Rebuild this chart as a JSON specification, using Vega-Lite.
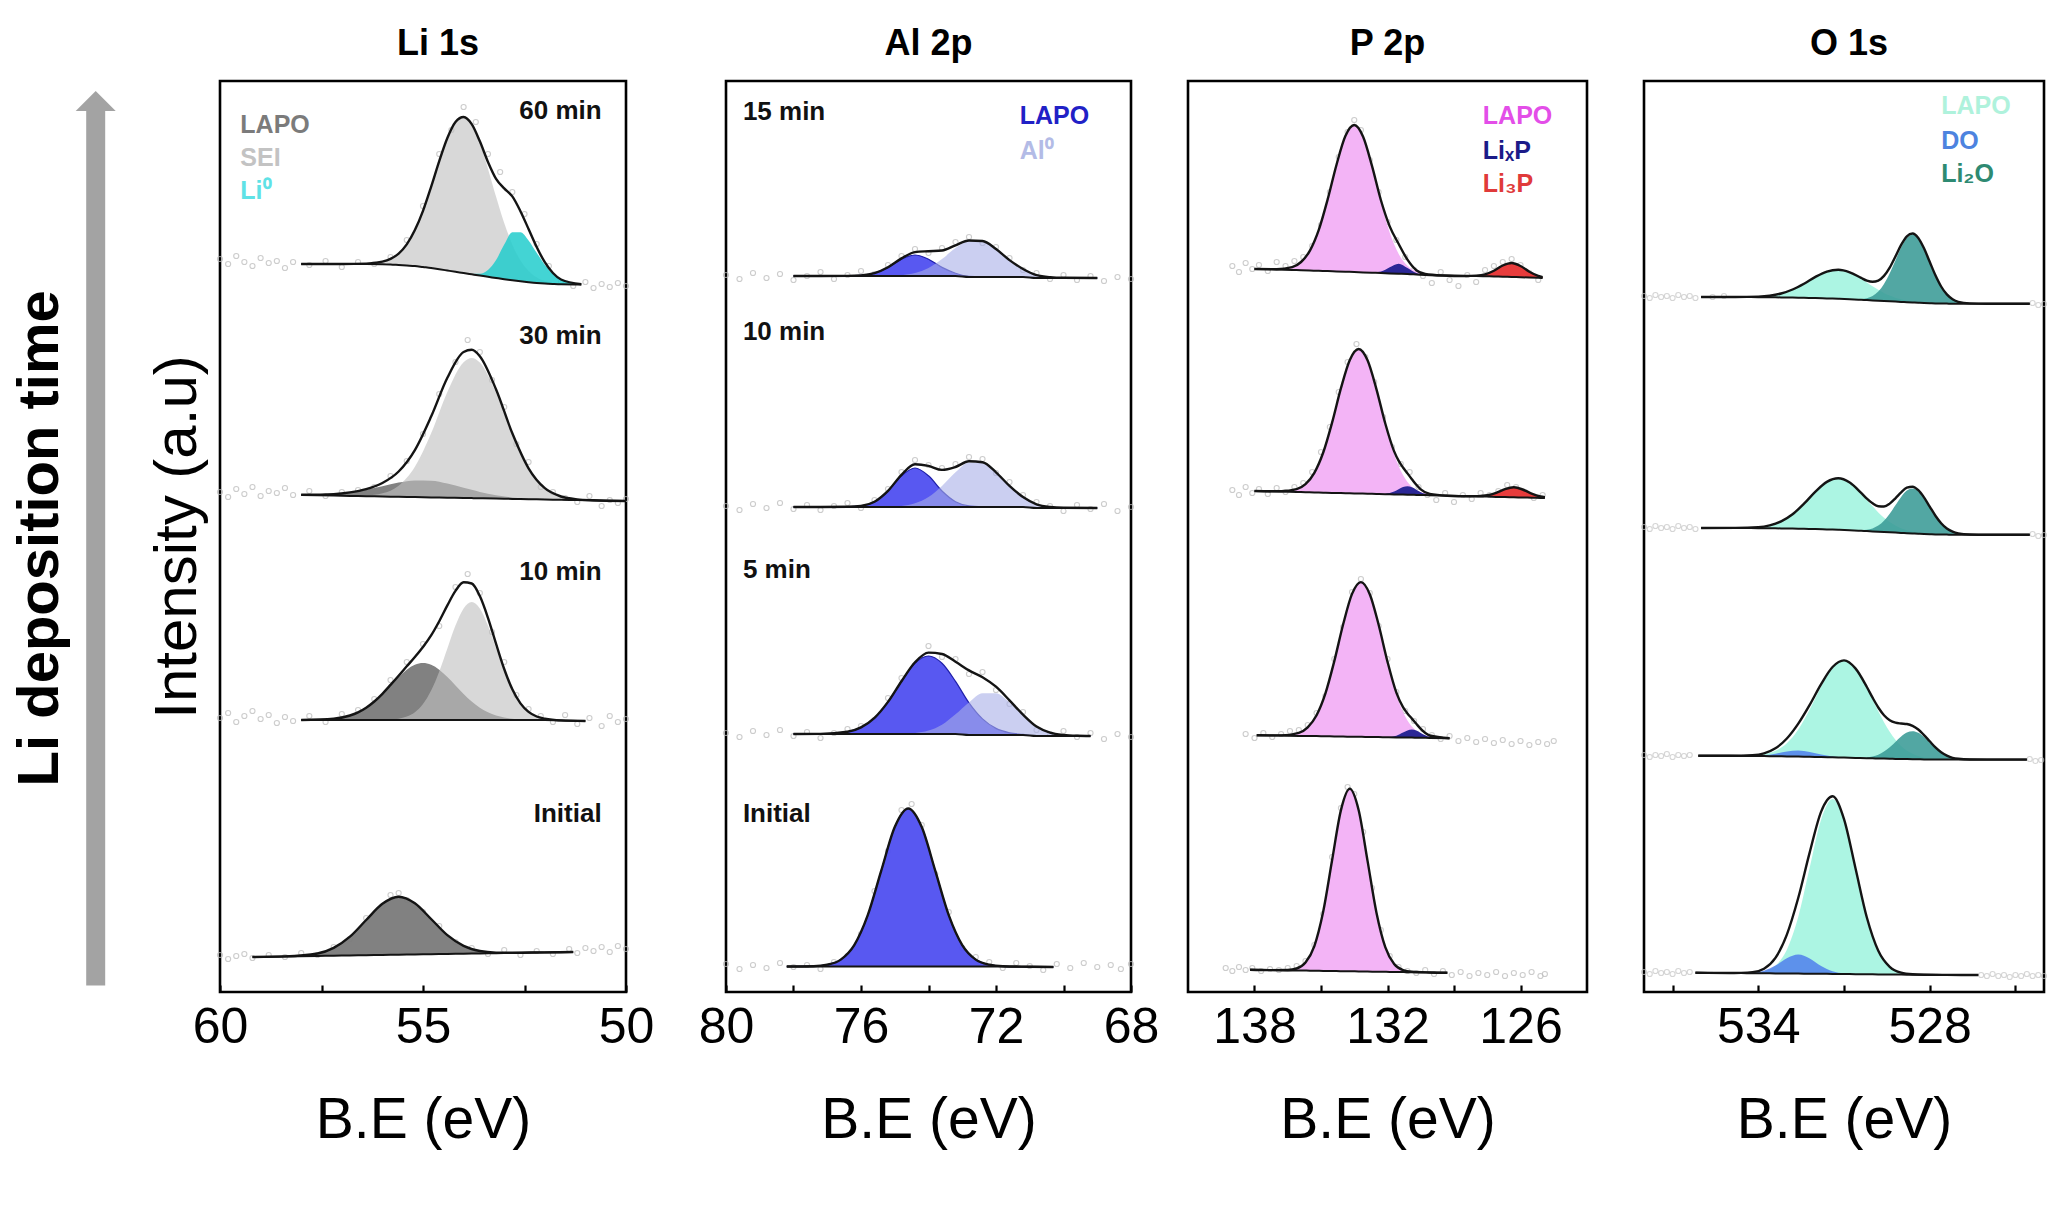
{
"$schema": "https://vega.github.io/schema/vega-lite/v6.json",
"background": "white",
"padding": {"left": 0, "top": 24, "right": 5, "bottom": 5},
"config": {
  "font": "Liberation Sans",
  "view": {"stroke": "#000", "strokeWidth": 2.6},
  "axis": {"grid": false, "domain": false, "labelColor": "#000", "titleColor": "#000", "tickColor": "#000"},
  "axisX": {"tickSize": -7, "tickWidth": 2.2, "labelFontSize": 50, "labelPadding": 17, "labelFlush": false, "labelOverlap": false, "labelBound": false, "titleFontSize": 57, "titleFontWeight": "normal", "titlePadding": 40, "format": "d"},
  "text": {"font": "Liberation Sans"}
},
"datasets": {
"Li1s": [
{"t":1,"x":59.2,"bg":35,"LAPO":35,"fit":35},
{"t":1,"x":58.4,"bg":35.5,"LAPO":35.6,"fit":35.6},
{"t":1,"x":57.6,"bg":36,"LAPO":38.5,"fit":38.5},
{"t":1,"x":57.2,"bg":36.3,"LAPO":44.1,"fit":44.1},
{"t":1,"x":56.8,"bg":36.5,"LAPO":55.3,"fit":55.3},
{"t":1,"x":56.4,"bg":36.8,"LAPO":72,"fit":72},
{"t":1,"x":56,"bg":37,"LAPO":88.2,"fit":88.2},
{"t":1,"x":55.6,"bg":37.3,"LAPO":95.3,"fit":95.3},
{"t":1,"x":55.2,"bg":37.5,"LAPO":88.7,"fit":88.7},
{"t":1,"x":54.8,"bg":37.8,"LAPO":73,"fit":73},
{"t":1,"x":54.4,"bg":38,"LAPO":56.8,"fit":56.8},
{"t":1,"x":54,"bg":38.3,"LAPO":46.1,"fit":46.1},
{"t":1,"x":53.6,"bg":38.5,"LAPO":41,"fit":41},
{"t":1,"x":53.2,"bg":38.8,"LAPO":39.4,"fit":39.4},
{"t":1,"x":52.8,"bg":39.1,"LAPO":39.2,"fit":39.2},
{"t":1,"x":52,"bg":39.6,"LAPO":39.6,"fit":39.6},
{"t":1,"x":51.3,"bg":40,"LAPO":40,"fit":40},
{"t":2,"x":58,"bg":272,"LAPO":272,"SEI":272,"fit":272},
{"t":2,"x":57.2,"bg":272,"LAPO":273.3,"SEI":272,"fit":273.3},
{"t":2,"x":56.8,"bg":272,"LAPO":276.5,"SEI":272,"fit":276.5},
{"t":2,"x":56.6,"bg":272,"LAPO":279.7,"SEI":272,"fit":279.7},
{"t":2,"x":56.4,"bg":272,"LAPO":284.3,"SEI":272,"fit":284.3},
{"t":2,"x":56.2,"bg":272,"LAPO":290.5,"SEI":272,"fit":290.5},
{"t":2,"x":56,"bg":272,"LAPO":298.1,"SEI":272.1,"fit":298.2},
{"t":2,"x":55.8,"bg":272,"LAPO":306.6,"SEI":272.5,"fit":307.1},
{"t":2,"x":55.6,"bg":272,"LAPO":315,"SEI":273.3,"fit":316.3},
{"t":2,"x":55.4,"bg":272,"LAPO":322.3,"SEI":275.4,"fit":325.7},
{"t":2,"x":55.2,"bg":272,"LAPO":327.2,"SEI":279.8,"fit":335},
{"t":2,"x":55,"bg":272,"LAPO":329,"SEI":288,"fit":345},
{"t":2,"x":54.8,"bg":272,"LAPO":327.2,"SEI":301.4,"fit":356.6},
{"t":2,"x":54.6,"bg":272,"LAPO":322.3,"SEI":320.5,"fit":370.8},
{"t":2,"x":54.4,"bg":272,"LAPO":315,"SEI":343.6,"fit":386.6},
{"t":2,"x":54.2,"bg":272,"LAPO":306.6,"SEI":366.5,"fit":401.1},
{"t":2,"x":54,"bg":272,"LAPO":298.1,"SEI":383.6,"fit":409.7},
{"t":2,"x":53.8,"bg":272,"LAPO":290.5,"SEI":390,"fit":408.5},
{"t":2,"x":53.6,"bg":272,"LAPO":284.3,"SEI":383.6,"fit":395.9},
{"t":2,"x":53.4,"bg":272,"LAPO":279.7,"SEI":366.5,"fit":374.2},
{"t":2,"x":53.2,"bg":272,"LAPO":276.5,"SEI":343.6,"fit":348.1},
{"t":2,"x":53,"bg":272,"LAPO":274.5,"SEI":320.5,"fit":323},
{"t":2,"x":52.8,"bg":272,"LAPO":273.3,"SEI":301.4,"fit":302.7},
{"t":2,"x":52.6,"bg":272,"LAPO":272.6,"SEI":288,"fit":288.6},
{"t":2,"x":52.4,"bg":272,"LAPO":272.3,"SEI":279.8,"fit":280.1},
{"t":2,"x":52.2,"bg":272,"LAPO":272.1,"SEI":275.4,"fit":275.5},
{"t":2,"x":52,"bg":272,"LAPO":272.1,"SEI":273.3,"fit":273.4},
{"t":2,"x":51.6,"bg":271.5,"LAPO":271.5,"SEI":271.6,"fit":271.6},
{"t":2,"x":51,"bg":271,"LAPO":271,"SEI":271,"fit":271},
{"t":3,"x":58,"bg":497,"LAPO":497.2,"SEI":497,"fit":497.2},
{"t":3,"x":57.2,"bg":496.4,"LAPO":497.9,"SEI":496.4,"fit":497.9},
{"t":3,"x":56.8,"bg":496.1,"LAPO":499.5,"SEI":496.2,"fit":499.6},
{"t":3,"x":56.4,"bg":495.8,"LAPO":502.2,"SEI":496.5,"fit":502.9},
{"t":3,"x":56,"bg":495.5,"LAPO":505.8,"SEI":498.7,"fit":509},
{"t":3,"x":55.6,"bg":495.2,"LAPO":509.4,"SEI":506.3,"fit":520.5},
{"t":3,"x":55.2,"bg":494.9,"LAPO":511.6,"SEI":525.2,"fit":541.9},
{"t":3,"x":54.8,"bg":494.6,"LAPO":511.3,"SEI":558.7,"fit":575.4},
{"t":3,"x":54.4,"bg":494.3,"LAPO":508.5,"SEI":600,"fit":614.2},
{"t":3,"x":54,"bg":494,"LAPO":504.3,"SEI":629.7,"fit":640},
{"t":3,"x":53.8,"bg":493.9,"LAPO":502.2,"SEI":633.9,"fit":642.2},
{"t":3,"x":53.6,"bg":493.7,"LAPO":500.1,"SEI":629.4,"fit":635.8},
{"t":3,"x":53.2,"bg":493.4,"LAPO":496.8,"SEI":599.1,"fit":602.5},
{"t":3,"x":52.8,"bg":493.1,"LAPO":494.6,"SEI":557.2,"fit":558.7},
{"t":3,"x":52.4,"bg":492.8,"LAPO":493.4,"SEI":523.1,"fit":523.7},
{"t":3,"x":52,"bg":492.5,"LAPO":492.7,"SEI":503.6,"fit":503.8},
{"t":3,"x":51.6,"bg":492.2,"LAPO":492.3,"SEI":495.4,"fit":495.5},
{"t":3,"x":51.2,"bg":491.9,"LAPO":491.9,"SEI":492.6,"fit":492.6},
{"t":3,"x":50.8,"bg":491.6,"LAPO":491.6,"SEI":491.7,"fit":491.7},
{"t":3,"x":50,"bg":491,"LAPO":491,"SEI":491,"fit":491},
{"t":4,"x":58,"bg":728,"SEI":728,"fit":728},
{"t":4,"x":57,"bg":728,"SEI":728,"fit":728},
{"t":4,"x":56.4,"bg":728,"SEI":728.4,"fit":728.4},
{"t":4,"x":56,"bg":727.8,"SEI":730.4,"fit":730.4},
{"t":4,"x":55.8,"bg":727.5,"SEI":733.2,"fit":733.2},
{"t":4,"x":55.6,"bg":727,"SEI":738.4,"fit":738.4},
{"t":4,"x":55.4,"bg":726.5,"SEI":747.6,"fit":747.6},
{"t":4,"x":55.2,"bg":726,"SEI":761.9,"fit":761.9},
{"t":4,"x":55,"bg":725,"SEI":781.2,"fit":781.2},
{"t":4,"x":54.8,"bg":724,"SEI":805.2,"fit":805.2},
{"t":4,"x":54.6,"bg":722.8,"SEI":830.9,"fit":830.9},
{"t":4,"x":54.4,"bg":721.5,"SEI":854,"fit":854},
{"t":4,"x":54.2,"bg":720.2,"SEI":870,"fit":870},
{"t":4,"x":54,"bg":719,"SEI":875,"fit":875},
{"t":4,"x":53.8,"bg":717.7,"SEI":867.5,"Li0":718.1,"fit":867.9},
{"t":4,"x":53.6,"bg":716.4,"SEI":848.9,"Li0":718.2,"fit":850.7},
{"t":4,"x":53.4,"bg":715.2,"SEI":823.3,"Li0":722,"fit":830.1},
{"t":4,"x":53.2,"bg":714,"SEI":795.2,"Li0":732,"fit":813.2},
{"t":4,"x":53,"bg":712.8,"SEI":769,"Li0":747.4,"fit":803.6},
{"t":4,"x":52.8,"bg":711.7,"SEI":747.6,"Li0":759.7,"fit":795.6},
{"t":4,"x":52.6,"bg":710.7,"SEI":731.8,"Li0":759.7,"fit":780.8},
{"t":4,"x":52.4,"bg":709.8,"SEI":721.2,"Li0":751.6,"fit":763},
{"t":4,"x":52.2,"bg":709,"SEI":714.7,"Li0":739.3,"fit":745},
{"t":4,"x":52,"bg":708.4,"SEI":711,"Li0":727.2,"fit":729.8},
{"t":4,"x":51.8,"bg":708,"SEI":709.1,"Li0":717.9,"fit":719},
{"t":4,"x":51.6,"bg":707.7,"SEI":708.1,"Li0":712.1,"fit":712.5},
{"t":4,"x":51.1,"bg":707.5,"SEI":707.5,"Li0":707.8,"fit":707.8}
],
"Li1s_raw": [
{"x":60,"v":37},{"x":59.8,"v":33},{"x":59.6,"v":36},{"x":59.4,"v":38},{"x":59.2,"v":34},{"x":58.8,"v":37},{"x":58.4,"v":35},{"x":58,"v":39},{"x":57.6,"v":37},{"x":57.2,"v":45},{"x":56.8,"v":53},{"x":56.4,"v":74},{"x":56,"v":86},{"x":55.8,"v":97},{"x":55.6,"v":99},{"x":55.4,"v":92},{"x":55,"v":80},{"x":54.6,"v":66},{"x":54.2,"v":50},{"x":53.8,"v":44},{"x":53.4,"v":38},{"x":53,"v":42},{"x":52.6,"v":37},{"x":52.2,"v":41},{"x":51.8,"v":38},{"x":51.4,"v":43},{"x":51.2,"v":39},{"x":51,"v":44},{"x":50.8,"v":41},{"x":50.6,"v":45},{"x":50.4,"v":40},{"x":50.2,"v":46},{"x":50,"v":43},
{"x":60,"v":274},{"x":59.8,"v":279},{"x":59.6,"v":270},{"x":59.4,"v":276},{"x":59.2,"v":281},{"x":59,"v":273},{"x":58.8,"v":277},{"x":58.6,"v":269},{"x":58.4,"v":275},{"x":58.2,"v":271},{"x":57.8,"v":276},{"x":57.4,"v":270},{"x":57,"v":278},{"x":56.6,"v":282},{"x":56.2,"v":293},{"x":55.8,"v":312},{"x":55.4,"v":330},{"x":55,"v":348},{"x":54.6,"v":366},{"x":54.2,"v":405},{"x":53.9,"v":418},{"x":53.6,"v":399},{"x":53.3,"v":360},{"x":53,"v":330},{"x":52.7,"v":297},{"x":52.4,"v":283},{"x":52.1,"v":276},{"x":51.8,"v":270},{"x":51.5,"v":277},{"x":51.2,"v":268},{"x":50.9,"v":274},{"x":50.6,"v":266},{"x":50.4,"v":276},{"x":50.2,"v":270},{"x":50,"v":273},
{"x":60,"v":500},{"x":59.8,"v":495},{"x":59.6,"v":503},{"x":59.4,"v":498},{"x":59.2,"v":505},{"x":59,"v":496},{"x":58.8,"v":501},{"x":58.6,"v":499},{"x":58.4,"v":504},{"x":58.2,"v":497},{"x":57.8,"v":501},{"x":57.4,"v":496},{"x":57,"v":500},{"x":56.6,"v":502},{"x":56.2,"v":505},{"x":55.8,"v":516},{"x":55.4,"v":531},{"x":55,"v":558},{"x":54.6,"v":598},{"x":54.2,"v":630},{"x":53.9,"v":652},{"x":53.6,"v":640},{"x":53.3,"v":612},{"x":53,"v":585},{"x":52.7,"v":548},{"x":52.4,"v":530},{"x":52.1,"v":505},{"x":51.8,"v":500},{"x":51.5,"v":494},{"x":51.2,"v":490},{"x":50.9,"v":496},{"x":50.6,"v":486},{"x":50.4,"v":492},{"x":50.2,"v":489},{"x":50,"v":493},
{"x":60,"v":733},{"x":59.8,"v":728},{"x":59.6,"v":736},{"x":59.4,"v":730},{"x":59.2,"v":726},{"x":59,"v":734},{"x":58.8,"v":729},{"x":58.6,"v":731},{"x":58.4,"v":724},{"x":58.2,"v":730},{"x":57.8,"v":727},{"x":57.4,"v":731},{"x":57,"v":725},{"x":56.6,"v":730},{"x":56.2,"v":728},{"x":55.8,"v":735},{"x":55.4,"v":752},{"x":55,"v":786},{"x":54.6,"v":838},{"x":54.3,"v":862},{"x":54,"v":885},{"x":53.7,"v":870},{"x":53.4,"v":838},{"x":53.1,"v":820},{"x":52.8,"v":800},{"x":52.5,"v":778},{"x":52.2,"v":748},{"x":51.9,"v":726},{"x":51.6,"v":710},{"x":51.3,"v":706},{"x":51,"v":710},{"x":50.8,"v":704},{"x":50.6,"v":708},{"x":50.4,"v":705},{"x":50.2,"v":709},{"x":50,"v":706}
],
"Al2p": [
{"t":1,"x":78.2,"bg":25.5,"LAPO":25.5,"fit":25.5},
{"t":1,"x":77.4,"bg":25.5,"LAPO":25.8,"fit":25.8},
{"t":1,"x":77,"bg":25.5,"LAPO":27.3,"fit":27.3},
{"t":1,"x":76.6,"bg":25.5,"LAPO":32.4,"fit":32.4},
{"t":1,"x":76.2,"bg":25.5,"LAPO":46.9,"fit":46.9},
{"t":1,"x":75.8,"bg":25.5,"LAPO":76.8,"fit":76.8},
{"t":1,"x":75.4,"bg":25.5,"LAPO":121.3,"fit":121.3},
{"t":1,"x":75,"bg":25.5,"LAPO":164.9,"fit":164.9},
{"t":1,"x":74.6,"bg":25.5,"LAPO":183.5,"fit":183.5},
{"t":1,"x":74.2,"bg":25.5,"LAPO":164.9,"fit":164.9},
{"t":1,"x":73.8,"bg":25.5,"LAPO":121.3,"fit":121.3},
{"t":1,"x":73.4,"bg":25.5,"LAPO":76.8,"fit":76.8},
{"t":1,"x":73,"bg":25.5,"LAPO":46.9,"fit":46.9},
{"t":1,"x":72.6,"bg":25.5,"LAPO":32.4,"fit":32.4},
{"t":1,"x":72.2,"bg":25.5,"LAPO":27.3,"fit":27.3},
{"t":1,"x":71.8,"bg":25.4,"LAPO":25.7,"fit":25.7},
{"t":1,"x":71,"bg":25.3,"LAPO":25.3,"fit":25.3},
{"t":1,"x":70.3,"bg":25,"LAPO":25,"fit":25},
{"t":2,"x":78,"bg":258,"LAPO":258,"fit":258},
{"t":2,"x":77.2,"bg":258,"LAPO":258.1,"fit":258.1},
{"t":2,"x":76.4,"bg":258,"LAPO":260.2,"fit":260.2},
{"t":2,"x":76,"bg":258,"LAPO":264.6,"fit":264.6},
{"t":2,"x":75.6,"bg":258,"LAPO":274.1,"Al0":258,"fit":274.1},
{"t":2,"x":75.2,"bg":258,"LAPO":290.1,"Al0":258,"fit":290.1},
{"t":2,"x":74.8,"bg":258,"LAPO":310.6,"Al0":258.2,"fit":310.8},
{"t":2,"x":74.4,"bg":258,"LAPO":328.7,"Al0":259,"fit":329.7},
{"t":2,"x":74,"bg":258,"LAPO":336,"Al0":261.4,"fit":339.4},
{"t":2,"x":73.6,"bg":258,"LAPO":328.7,"Al0":267.3,"fit":338},
{"t":2,"x":73.2,"bg":258,"LAPO":310.6,"Al0":277.7,"fit":330.3},
{"t":2,"x":72.8,"bg":257,"LAPO":289.1,"Al0":289.5,"fit":321.6},
{"t":2,"x":72.4,"bg":257,"LAPO":273.1,"Al0":298.7,"fit":314.8},
{"t":2,"x":72,"bg":257,"LAPO":263.6,"Al0":298.7,"fit":305.3},
{"t":2,"x":71.6,"bg":257,"LAPO":259.2,"Al0":289.5,"fit":291.7},
{"t":2,"x":71.2,"bg":257,"LAPO":257.6,"Al0":276.7,"fit":277.3},
{"t":2,"x":70.8,"bg":256,"LAPO":256.1,"Al0":265.3,"fit":265.4},
{"t":2,"x":70.4,"bg":256,"LAPO":256,"Al0":259.4,"fit":259.4},
{"t":2,"x":70,"bg":256,"LAPO":256,"Al0":257,"fit":257},
{"t":2,"x":69.6,"bg":256,"LAPO":256,"Al0":256.2,"fit":256.2},
{"t":2,"x":69.2,"bg":256,"LAPO":256,"Al0":256,"fit":256},
{"t":3,"x":78,"bg":485,"LAPO":485,"fit":485},
{"t":3,"x":77.2,"bg":485,"LAPO":485,"fit":485},
{"t":3,"x":76.4,"bg":485,"LAPO":485.2,"fit":485.2},
{"t":3,"x":76,"bg":485,"LAPO":486.1,"fit":486.1},
{"t":3,"x":75.6,"bg":485,"LAPO":490.3,"Al0":485,"fit":490.3},
{"t":3,"x":75.2,"bg":485,"LAPO":501,"Al0":485.2,"fit":501.2},
{"t":3,"x":74.8,"bg":485,"LAPO":516.2,"Al0":486,"fit":517.2},
{"t":3,"x":74.4,"bg":485,"LAPO":524,"Al0":488.7,"fit":527.7},
{"t":3,"x":74,"bg":485,"LAPO":516.2,"Al0":494.9,"fit":526.1},
{"t":3,"x":73.6,"bg":485,"LAPO":501,"Al0":506.1,"fit":522.1},
{"t":3,"x":73.2,"bg":485,"LAPO":490.3,"Al0":519.7,"fit":525},
{"t":3,"x":72.8,"bg":485,"LAPO":486.1,"Al0":529.6,"fit":530.7},
{"t":3,"x":72.4,"bg":485,"LAPO":485.2,"Al0":529.6,"fit":529.8},
{"t":3,"x":72,"bg":485,"LAPO":485,"Al0":519.7,"fit":519.7},
{"t":3,"x":71.6,"bg":485,"LAPO":485,"Al0":506.1,"fit":506.1},
{"t":3,"x":71.2,"bg":485,"LAPO":485,"Al0":494.9,"fit":494.9},
{"t":3,"x":70.8,"bg":484,"LAPO":484,"Al0":487.7,"fit":487.7},
{"t":3,"x":70.4,"bg":484,"LAPO":484,"Al0":485,"fit":485},
{"t":3,"x":70,"bg":484,"LAPO":484,"Al0":484.2,"fit":484.2},
{"t":3,"x":69,"bg":484,"LAPO":484,"Al0":484,"fit":484},
{"t":4,"x":78,"bg":716,"LAPO":716,"fit":716},
{"t":4,"x":77.2,"bg":716,"LAPO":716,"fit":716},
{"t":4,"x":76.4,"bg":716,"LAPO":716.1,"fit":716.1},
{"t":4,"x":76,"bg":716,"LAPO":716.6,"fit":716.6},
{"t":4,"x":75.6,"bg":716,"LAPO":718.8,"Al0":716,"fit":718.8},
{"t":4,"x":75.2,"bg":716,"LAPO":724.6,"Al0":716.2,"fit":724.8},
{"t":4,"x":74.8,"bg":716,"LAPO":732.8,"Al0":716.8,"fit":733.6},
{"t":4,"x":74.4,"bg":716,"LAPO":737,"Al0":718.9,"fit":739.9},
{"t":4,"x":74,"bg":716,"LAPO":732.8,"Al0":724,"fit":740.8},
{"t":4,"x":73.6,"bg":716,"LAPO":724.6,"Al0":732.9,"fit":741.5},
{"t":4,"x":73.2,"bg":716,"LAPO":718.8,"Al0":743.9,"fit":746.7},
{"t":4,"x":72.8,"bg":715,"LAPO":715.6,"Al0":750.9,"fit":751.5},
{"t":4,"x":72.4,"bg":715,"LAPO":715.1,"Al0":750.9,"fit":751},
{"t":4,"x":72,"bg":715,"LAPO":715,"Al0":742.9,"fit":742.9},
{"t":4,"x":71.6,"bg":715,"LAPO":715,"Al0":731.9,"fit":731.9},
{"t":4,"x":71.2,"bg":715,"LAPO":715,"Al0":723,"fit":723},
{"t":4,"x":70.8,"bg":714,"LAPO":714,"Al0":716.9,"fit":716.9},
{"t":4,"x":70.4,"bg":714,"LAPO":714,"Al0":714.8,"fit":714.8},
{"t":4,"x":70,"bg":714,"LAPO":714,"Al0":714.2,"fit":714.2},
{"t":4,"x":69,"bg":714,"LAPO":714,"Al0":714,"fit":714}
],
"Al2p_raw": [
{"x":80,"v":28},{"x":79.6,"v":23},{"x":79.2,"v":27},{"x":78.8,"v":24},{"x":78.4,"v":29},{"x":78,"v":25},{"x":77.6,"v":27},{"x":77.2,"v":23},{"x":76.8,"v":30},{"x":76.4,"v":36},{"x":76,"v":58},{"x":75.6,"v":101},{"x":75.2,"v":141},{"x":74.8,"v":182},{"x":74.5,"v":188},{"x":74.2,"v":167},{"x":73.8,"v":118},{"x":73.4,"v":80},{"x":73,"v":44},{"x":72.6,"v":35},{"x":72.2,"v":30},{"x":71.8,"v":24},{"x":71.4,"v":29},{"x":71,"v":26},{"x":70.6,"v":22},{"x":70.2,"v":28},{"x":69.8,"v":24},{"x":69.4,"v":29},{"x":69,"v":25},{"x":68.6,"v":27},{"x":68.3,"v":23},{"x":68,"v":28},
{"x":80,"v":259},{"x":79.6,"v":255},{"x":79.2,"v":261},{"x":78.8,"v":257},{"x":78.4,"v":262},{"x":78,"v":256},{"x":77.6,"v":260},{"x":77.2,"v":254},{"x":76.8,"v":259},{"x":76.4,"v":263},{"x":76,"v":266},{"x":75.6,"v":272},{"x":75.2,"v":294},{"x":74.8,"v":314},{"x":74.4,"v":327},{"x":74,"v":346},{"x":73.6,"v":335},{"x":73.2,"v":333},{"x":72.8,"v":318},{"x":72.4,"v":320},{"x":72,"v":302},{"x":71.6,"v":288},{"x":71.2,"v":280},{"x":70.8,"v":262},{"x":70.4,"v":258},{"x":70,"v":261},{"x":69.6,"v":255},{"x":69.2,"v":259},{"x":68.8,"v":253},{"x":68.4,"v":258},{"x":68,"v":255},
{"x":80,"v":486},{"x":79.6,"v":482},{"x":79.2,"v":488},{"x":78.8,"v":484},{"x":78.4,"v":489},{"x":78,"v":483},{"x":77.6,"v":487},{"x":77.2,"v":482},{"x":76.8,"v":486},{"x":76.4,"v":489},{"x":76,"v":484},{"x":75.6,"v":492},{"x":75.2,"v":503},{"x":74.8,"v":520},{"x":74.4,"v":532},{"x":74,"v":527},{"x":73.6,"v":524},{"x":73.2,"v":528},{"x":72.8,"v":535},{"x":72.4,"v":533},{"x":72,"v":519},{"x":71.6,"v":510},{"x":71.2,"v":497},{"x":70.8,"v":490},{"x":70.4,"v":486},{"x":70,"v":481},{"x":69.6,"v":487},{"x":69.2,"v":483},{"x":68.8,"v":488},{"x":68.4,"v":481},{"x":68,"v":485},
{"x":80,"v":717},{"x":79.6,"v":713},{"x":79.2,"v":719},{"x":78.8,"v":714},{"x":78.4,"v":718},{"x":78,"v":712},{"x":77.6,"v":716},{"x":77.2,"v":720},{"x":76.8,"v":713},{"x":76.4,"v":717},{"x":76,"v":721},{"x":75.6,"v":718},{"x":75.2,"v":727},{"x":74.8,"v":736},{"x":74.4,"v":743},{"x":74,"v":739},{"x":73.6,"v":744},{"x":73.2,"v":750},{"x":72.8,"v":755},{"x":72.4,"v":749},{"x":72,"v":745},{"x":71.6,"v":734},{"x":71.2,"v":722},{"x":70.8,"v":719},{"x":70.4,"v":713},{"x":70,"v":717},{"x":69.6,"v":712},{"x":69.2,"v":716},{"x":68.8,"v":711},{"x":68.4,"v":715},{"x":68,"v":713}
],
"P2p": [
{"t":1,"x":138.2,"bg":22.2,"LAPO":22.2,"fit":22.2},
{"t":1,"x":137.3,"bg":21.9,"LAPO":21.9,"fit":21.9},
{"t":1,"x":136.5,"bg":21.6,"LAPO":22,"fit":22},
{"t":1,"x":136.1,"bg":21.5,"LAPO":23.5,"fit":23.5},
{"t":1,"x":135.7,"bg":21.4,"LAPO":29.4,"fit":29.4},
{"t":1,"x":135.3,"bg":21.2,"LAPO":45.9,"fit":45.9},
{"t":1,"x":134.9,"bg":21.1,"LAPO":80.4,"fit":80.4},
{"t":1,"x":134.5,"bg":21,"LAPO":131.7,"fit":131.7},
{"t":1,"x":134.1,"bg":20.8,"LAPO":181.9,"fit":181.9},
{"t":1,"x":133.7,"bg":20.7,"LAPO":203.2,"fit":203.2},
{"t":1,"x":133.3,"bg":20.6,"LAPO":181.7,"fit":181.7},
{"t":1,"x":132.9,"bg":20.4,"LAPO":131.1,"fit":131.1},
{"t":1,"x":132.5,"bg":20.3,"LAPO":79.6,"fit":79.6},
{"t":1,"x":132.1,"bg":20.2,"LAPO":44.9,"fit":44.9},
{"t":1,"x":131.7,"bg":20,"LAPO":28,"fit":28},
{"t":1,"x":131.3,"bg":19.9,"LAPO":21.9,"fit":21.9},
{"t":1,"x":130.9,"bg":19.8,"LAPO":20.2,"fit":20.2},
{"t":1,"x":130.1,"bg":19.5,"LAPO":19.5,"fit":19.5},
{"t":1,"x":129.3,"bg":19.2,"LAPO":19.2,"fit":19.2},
{"t":2,"x":137.9,"bg":256.8,"LAPO":256.8,"fit":256.8},
{"t":2,"x":136.8,"bg":256.4,"LAPO":256.6,"fit":256.6},
{"t":2,"x":136,"bg":256.1,"LAPO":259.2,"fit":259.2},
{"t":2,"x":135.6,"bg":256,"LAPO":264.7,"fit":264.7},
{"t":2,"x":135.2,"bg":255.9,"LAPO":276.8,"fit":276.8},
{"t":2,"x":134.8,"bg":255.7,"LAPO":298.7,"fit":298.7},
{"t":2,"x":134.4,"bg":255.6,"LAPO":330.9,"fit":330.9},
{"t":2,"x":134,"bg":255.4,"LAPO":367.7,"fit":367.7},
{"t":2,"x":133.6,"bg":255.3,"LAPO":398.1,"fit":398.1},
{"t":2,"x":133.2,"bg":255.2,"LAPO":409.9,"fit":409.9},
{"t":2,"x":132.8,"bg":255,"LAPO":397.8,"fit":397.8},
{"t":2,"x":132.4,"bg":254.9,"LAPO":367.2,"fit":367.2},
{"t":2,"x":132,"bg":254.8,"LAPO":330.1,"LixP":255,"fit":330.3},
{"t":2,"x":131.6,"bg":254.6,"LAPO":297.6,"LixP":256.3,"fit":299.3},
{"t":2,"x":131.3,"bg":254.5,"LAPO":279.9,"LixP":259.4,"fit":284.8},
{"t":2,"x":131.1,"bg":254.4,"LAPO":271.4,"LixP":261.5,"fit":278.5},
{"t":2,"x":130.9,"bg":254.4,"LAPO":265.4,"LixP":262.4,"fit":273.4},
{"t":2,"x":130.7,"bg":254.3,"LAPO":261.1,"LixP":261.4,"fit":268.2},
{"t":2,"x":130.5,"bg":254.2,"LAPO":258.2,"LixP":259.1,"fit":263.1},
{"t":2,"x":130.1,"bg":254.1,"LAPO":255.4,"LixP":255.2,"fit":256.5},
{"t":2,"x":129.2,"bg":253.8,"LAPO":253.8,"LixP":253.8,"fit":253.8},
{"t":3,"x":138,"bg":501,"LAPO":501,"fit":501},
{"t":3,"x":136.8,"bg":500.4,"LAPO":500.7,"fit":500.7},
{"t":3,"x":136.1,"bg":500,"LAPO":502.9,"fit":502.9},
{"t":3,"x":135.7,"bg":499.8,"LAPO":507.9,"fit":507.9},
{"t":3,"x":135.3,"bg":499.6,"LAPO":519.2,"fit":519.2},
{"t":3,"x":134.9,"bg":499.3,"LAPO":539.5,"fit":539.5},
{"t":3,"x":134.5,"bg":499.1,"LAPO":569.4,"fit":569.4},
{"t":3,"x":134.1,"bg":498.9,"LAPO":603.8,"fit":603.8},
{"t":3,"x":133.7,"bg":498.7,"LAPO":632.1,"fit":632.1},
{"t":3,"x":133.3,"bg":498.5,"LAPO":643,"fit":643},
{"t":3,"x":132.9,"bg":498.3,"LAPO":631.7,"fit":631.7},
{"t":3,"x":132.5,"bg":498,"LAPO":602.9,"fit":602.9},
{"t":3,"x":132.1,"bg":497.8,"LAPO":568.1,"LixP":498.2,"fit":568.5},
{"t":3,"x":131.7,"bg":497.6,"LAPO":537.8,"LixP":500.4,"fit":540.6},
{"t":3,"x":131.5,"bg":497.5,"LAPO":526.1,"LixP":502.7,"fit":531.3},
{"t":3,"x":131.3,"bg":497.4,"LAPO":517,"LixP":504.9,"fit":524.5},
{"t":3,"x":131.1,"bg":497.3,"LAPO":510.1,"LixP":505.8,"fit":518.6},
{"t":3,"x":130.9,"bg":497.2,"LAPO":505.3,"LixP":504.7,"fit":512.8},
{"t":3,"x":130.7,"bg":497.1,"LAPO":502,"LixP":502.3,"fit":507.2},
{"t":3,"x":130.5,"bg":497,"LAPO":499.9,"LixP":499.8,"fit":502.7},
{"t":3,"x":130.1,"bg":496.8,"LAPO":497.7,"LixP":497.2,"fit":498.1},
{"t":3,"x":129.3,"bg":496.3,"LAPO":496.3,"fit":496.3},
{"t":3,"x":128.3,"bg":495.8,"LAPO":495.8,"fit":495.8},
{"t":3,"x":127.9,"bg":495.6,"LAPO":495.6,"Li3P":495.9,"fit":495.9},
{"t":3,"x":127.5,"bg":495.4,"LAPO":495.4,"Li3P":496.8,"fit":496.8},
{"t":3,"x":127.1,"bg":495.1,"LAPO":495.1,"Li3P":499.2,"fit":499.2},
{"t":3,"x":126.7,"bg":494.9,"LAPO":494.9,"Li3P":502.9,"fit":502.9},
{"t":3,"x":126.3,"bg":494.7,"LAPO":494.7,"Li3P":504.7,"fit":504.7},
{"t":3,"x":125.9,"bg":494.5,"LAPO":494.5,"Li3P":502.5,"fit":502.5},
{"t":3,"x":125.5,"bg":494.3,"LAPO":494.3,"Li3P":498.4,"fit":498.4},
{"t":3,"x":125.1,"bg":494.1,"LAPO":494.1,"Li3P":495.5,"fit":495.5},
{"t":3,"x":124.9,"bg":494,"LAPO":494,"Li3P":494.7,"fit":494.7},
{"t":4,"x":138,"bg":723,"LAPO":723,"fit":723},
{"t":4,"x":137,"bg":722.5,"LAPO":722.8,"fit":722.8},
{"t":4,"x":136.3,"bg":722,"LAPO":724.9,"fit":724.9},
{"t":4,"x":135.9,"bg":721.8,"LAPO":730,"fit":730},
{"t":4,"x":135.5,"bg":721.5,"LAPO":741.4,"fit":741.4},
{"t":4,"x":135.1,"bg":721.2,"LAPO":762.1,"fit":762.1},
{"t":4,"x":134.7,"bg":721,"LAPO":792.6,"fit":792.6},
{"t":4,"x":134.3,"bg":720.6,"LAPO":827.3,"fit":827.3},
{"t":4,"x":133.9,"bg":720.3,"LAPO":856,"fit":856},
{"t":4,"x":133.5,"bg":720,"LAPO":867,"fit":867},
{"t":4,"x":133.1,"bg":719.6,"LAPO":855.3,"fit":855.3},
{"t":4,"x":132.7,"bg":719.3,"LAPO":826,"LixP":719.4,"fit":826.1},
{"t":4,"x":132.3,"bg":719,"LAPO":790.6,"LixP":720.4,"fit":792},
{"t":4,"x":131.9,"bg":718.6,"LAPO":759.5,"LixP":724.7,"fit":765.6},
{"t":4,"x":131.5,"bg":718.3,"LAPO":738.2,"LixP":728.3,"fit":748.2},
{"t":4,"x":131.1,"bg":718,"LAPO":726.2,"LixP":724.1,"fit":732.3},
{"t":4,"x":130.7,"bg":717.5,"LAPO":720.4,"LixP":718.9,"fit":721.8},
{"t":4,"x":130.3,"bg":717,"LAPO":717.9,"LixP":717.1,"fit":718},
{"t":4,"x":129.5,"bg":716.5,"LAPO":716.5,"fit":716.5},
{"t":4,"x":128.5,"bg":716,"LAPO":716,"fit":716},
{"t":4,"x":128,"bg":716,"LAPO":716,"Li3P":716.4,"fit":716.4},
{"t":4,"x":127.6,"bg":715.8,"LAPO":715.8,"Li3P":717.7,"fit":717.7},
{"t":4,"x":127.2,"bg":715.5,"LAPO":715.5,"Li3P":721.3,"fit":721.3},
{"t":4,"x":126.8,"bg":715.3,"LAPO":715.3,"Li3P":726.5,"fit":726.5},
{"t":4,"x":126.4,"bg":715,"LAPO":715,"Li3P":729,"fit":729},
{"t":4,"x":126,"bg":714.8,"LAPO":714.8,"Li3P":726,"fit":726},
{"t":4,"x":125.6,"bg":714.5,"LAPO":714.5,"Li3P":720.3,"fit":720.3},
{"t":4,"x":125.2,"bg":714.2,"LAPO":714.2,"Li3P":716.1,"fit":716.1},
{"t":4,"x":125,"bg":714,"LAPO":714,"Li3P":714.9,"fit":714.9}
],
"P2p_raw": [
{"x":139.3,"v":24},{"x":139,"v":21},{"x":138.7,"v":25},{"x":138.4,"v":22},{"x":138.1,"v":24},{"x":137.7,"v":21},{"x":137.3,"v":23},{"x":136.9,"v":22},{"x":136.5,"v":24},{"x":136.1,"v":26},{"x":135.7,"v":31},{"x":135.3,"v":47},{"x":134.9,"v":78},{"x":134.5,"v":135},{"x":134.1,"v":184},{"x":133.8,"v":205},{"x":133.5,"v":198},{"x":133.1,"v":160},{"x":132.7,"v":104},{"x":132.3,"v":62},{"x":131.9,"v":36},{"x":131.5,"v":25},{"x":131.1,"v":21},{"x":130.7,"v":19},{"x":130.3,"v":22},{"x":129.9,"v":18},{"x":129.5,"v":21},{"x":129.1,"v":17},{"x":128.7,"v":20},{"x":128.3,"v":16},{"x":127.9,"v":19},{"x":127.5,"v":17},{"x":127.1,"v":20},{"x":126.7,"v":16},{"x":126.3,"v":19},{"x":125.9,"v":17},{"x":125.5,"v":20},{"x":125.1,"v":16},{"x":124.9,"v":18},
{"x":138.4,"v":258},{"x":138,"v":254},{"x":137.6,"v":259},{"x":137.2,"v":255},{"x":136.8,"v":258},{"x":136.4,"v":261},{"x":136,"v":262},{"x":135.6,"v":267},{"x":135.2,"v":279},{"x":134.8,"v":296},{"x":134.4,"v":333},{"x":134,"v":365},{"x":133.6,"v":400},{"x":133.2,"v":413},{"x":132.8,"v":399},{"x":132.4,"v":366},{"x":132,"v":333},{"x":131.6,"v":300},{"x":131.2,"v":281},{"x":130.8,"v":271},{"x":130.4,"v":263},{"x":130,"v":257},{"x":129.6,"v":253},{"x":129.2,"v":256},{"x":128.8,"v":251},{"x":128.4,"v":254},{"x":128,"v":250},{"x":127.6,"v":253},{"x":127.2,"v":249},{"x":126.8,"v":252},{"x":126.4,"v":248},{"x":126,"v":251},{"x":125.6,"v":247},{"x":125.2,"v":250},{"x":124.8,"v":248},{"x":124.5,"v":251},
{"x":139,"v":502},{"x":138.7,"v":497},{"x":138.4,"v":505},{"x":138.1,"v":499},{"x":137.8,"v":503},{"x":137.4,"v":498},{"x":137,"v":504},{"x":136.6,"v":500},{"x":136.2,"v":505},{"x":135.8,"v":509},{"x":135.4,"v":520},{"x":135,"v":540},{"x":134.6,"v":565},{"x":134.2,"v":600},{"x":133.8,"v":630},{"x":133.4,"v":648},{"x":133,"v":635},{"x":132.6,"v":610},{"x":132.2,"v":575},{"x":131.8,"v":545},{"x":131.4,"v":528},{"x":131,"v":520},{"x":130.6,"v":505},{"x":130.2,"v":497},{"x":129.8,"v":492},{"x":129.4,"v":499},{"x":129,"v":490},{"x":128.6,"v":497},{"x":128.2,"v":493},{"x":127.8,"v":499},{"x":127.4,"v":497},{"x":127,"v":501},{"x":126.6,"v":507},{"x":126.2,"v":505},{"x":125.8,"v":500},{"x":125.4,"v":494},{"x":125,"v":497},
{"x":139,"v":726},{"x":138.7,"v":720},{"x":138.4,"v":729},{"x":138.1,"v":723},{"x":137.8,"v":727},{"x":137.4,"v":721},{"x":137,"v":730},{"x":136.6,"v":726},{"x":136.2,"v":731},{"x":135.8,"v":735},{"x":135.4,"v":746},{"x":135,"v":767},{"x":134.6,"v":800},{"x":134.2,"v":835},{"x":133.8,"v":860},{"x":133.5,"v":872},{"x":133.2,"v":862},{"x":132.8,"v":832},{"x":132.4,"v":800},{"x":132,"v":770},{"x":131.6,"v":752},{"x":131.2,"v":735},{"x":130.8,"v":722},{"x":130.4,"v":716},{"x":130,"v":709},{"x":129.6,"v":720},{"x":129.2,"v":712},{"x":128.8,"v":706},{"x":128.4,"v":717},{"x":128,"v":710},{"x":127.6,"v":722},{"x":127.2,"v":726},{"x":126.8,"v":730},{"x":126.4,"v":733},{"x":126,"v":727},{"x":125.6,"v":719},{"x":125.2,"v":712}
],
"O1s": [
{"t":1,"x":536.2,"bg":19.2,"LAPO":19.2,"fit":19.2},
{"t":1,"x":535,"bg":19,"LAPO":19,"DO":19,"fit":19},
{"t":1,"x":534.6,"bg":18.9,"LAPO":19,"DO":19,"fit":19.1},
{"t":1,"x":534.2,"bg":18.8,"LAPO":19.2,"DO":19.3,"fit":19.7},
{"t":1,"x":533.8,"bg":18.7,"LAPO":20.6,"DO":21.3,"fit":23.2},
{"t":1,"x":533.4,"bg":18.6,"LAPO":26.3,"DO":26.4,"fit":34.1},
{"t":1,"x":533,"bg":18.5,"LAPO":42.2,"DO":33.7,"fit":57.4},
{"t":1,"x":532.6,"bg":18.4,"LAPO":75.2,"DO":37.4,"fit":94.2},
{"t":1,"x":532.2,"bg":18.3,"LAPO":124.4,"DO":33.5,"fit":139.6},
{"t":1,"x":531.8,"bg":18.2,"LAPO":172.6,"DO":26,"fit":180.4},
{"t":1,"x":531.4,"bg":18.1,"LAPO":193.1,"DO":20.7,"fit":195.7},
{"t":1,"x":531,"bg":18,"LAPO":172.4,"DO":18.5,"fit":172.9},
{"t":1,"x":530.6,"bg":17.8,"LAPO":123.9,"DO":17.9,"fit":124},
{"t":1,"x":530.2,"bg":17.7,"LAPO":74.5,"DO":17.7,"fit":74.5},
{"t":1,"x":529.8,"bg":17.6,"LAPO":41.3,"fit":41.3},
{"t":1,"x":529.4,"bg":17.5,"LAPO":25.2,"fit":25.2},
{"t":1,"x":529,"bg":17.4,"LAPO":19.3,"fit":19.3},
{"t":1,"x":528.6,"bg":17.3,"LAPO":17.7,"fit":17.7},
{"t":1,"x":528.2,"bg":17.2,"LAPO":17.3,"fit":17.3},
{"t":1,"x":527.4,"bg":17.1,"LAPO":17.1,"fit":17.1},
{"t":1,"x":526.3,"bg":17,"LAPO":17,"fit":17},
{"t":2,"x":536.1,"bg":236.3,"LAPO":236.3,"fit":236.3},
{"t":2,"x":535,"bg":236.2,"LAPO":236.2,"fit":236.2},
{"t":2,"x":534.2,"bg":236,"LAPO":236.6,"DO":236.2,"fit":236.8},
{"t":2,"x":533.8,"bg":235.9,"LAPO":237.8,"DO":236.7,"fit":238.6},
{"t":2,"x":533.4,"bg":235.8,"LAPO":241.2,"DO":238.3,"fit":243.7},
{"t":2,"x":533,"bg":235.6,"LAPO":248.7,"DO":240.4,"fit":253.5},
{"t":2,"x":532.6,"bg":235.4,"LAPO":262.4,"DO":241.4,"fit":268.4},
{"t":2,"x":532.2,"bg":235.2,"LAPO":282.4,"DO":240,"fit":287.2},
{"t":2,"x":531.8,"bg":235,"LAPO":305.4,"DO":237.5,"fit":307.9},
{"t":2,"x":531.4,"bg":234.7,"LAPO":324.2,"DO":235.5,"fit":325},
{"t":2,"x":531,"bg":234.4,"LAPO":331.4,"DO":234.6,"fit":331.6},
{"t":2,"x":530.6,"bg":234.1,"LAPO":323.6,"fit":323.6},
{"t":2,"x":530.2,"bg":233.8,"LAPO":304.2,"Li2O":234.6,"fit":305},
{"t":2,"x":530,"bg":233.7,"LAPO":292.5,"Li2O":235.5,"fit":294.3},
{"t":2,"x":529.8,"bg":233.5,"LAPO":280.7,"Li2O":237.3,"fit":284.5},
{"t":2,"x":529.6,"bg":233.4,"LAPO":269.8,"Li2O":240.4,"fit":276.8},
{"t":2,"x":529.4,"bg":233.3,"LAPO":260.3,"Li2O":244.8,"fit":271.8},
{"t":2,"x":529.2,"bg":233.1,"LAPO":252.3,"Li2O":250.1,"fit":269.3},
{"t":2,"x":529,"bg":233,"LAPO":246.1,"Li2O":255.4,"fit":268.5},
{"t":2,"x":528.8,"bg":232.9,"LAPO":241.5,"Li2O":259.4,"fit":268},
{"t":2,"x":528.6,"bg":232.8,"LAPO":238.2,"Li2O":260.8,"fit":266.2},
{"t":2,"x":528.4,"bg":232.7,"LAPO":236,"Li2O":259.2,"fit":262.5},
{"t":2,"x":528.2,"bg":232.6,"LAPO":234.5,"Li2O":255,"fit":256.9},
{"t":2,"x":528,"bg":232.6,"LAPO":233.7,"Li2O":249.6,"fit":250.7},
{"t":2,"x":527.8,"bg":232.5,"LAPO":233.1,"Li2O":244,"fit":244.6},
{"t":2,"x":527.6,"bg":232.5,"LAPO":232.8,"Li2O":239.5,"fit":239.8},
{"t":2,"x":527.4,"bg":232.5,"LAPO":232.6,"Li2O":236.3,"fit":236.4},
{"t":2,"x":527.2,"bg":232.4,"LAPO":232.4,"Li2O":234.2,"fit":234.2},
{"t":2,"x":527,"bg":232.4,"LAPO":232.4,"Li2O":233.2,"fit":233.2},
{"t":2,"x":526.6,"bg":232.4,"LAPO":232.4,"Li2O":232.5,"fit":232.5},
{"t":2,"x":526,"bg":232.4,"LAPO":232.4,"Li2O":232.4,"fit":232.4},
{"t":2,"x":524.6,"bg":232.4,"LAPO":232.4,"fit":232.4},
{"t":3,"x":536,"bg":464,"LAPO":464,"fit":464},
{"t":3,"x":534.8,"bg":464,"LAPO":464.1,"fit":464.1},
{"t":3,"x":534,"bg":463.8,"LAPO":464.8,"fit":464.8},
{"t":3,"x":533.6,"bg":463.7,"LAPO":466.6,"fit":466.6},
{"t":3,"x":533.2,"bg":463.6,"LAPO":470.6,"fit":470.6},
{"t":3,"x":532.8,"bg":463.4,"LAPO":477.7,"fit":477.7},
{"t":3,"x":532.4,"bg":463.2,"LAPO":488.3,"fit":488.3},
{"t":3,"x":532,"bg":463,"LAPO":500.4,"fit":500.4},
{"t":3,"x":531.6,"bg":462.6,"LAPO":510.1,"fit":510.1},
{"t":3,"x":531.2,"bg":462.2,"LAPO":513.7,"fit":513.7},
{"t":3,"x":530.8,"bg":461.8,"LAPO":509.3,"Li2O":461.9,"fit":509.4},
{"t":3,"x":530.4,"bg":461.2,"LAPO":498.6,"Li2O":461.7,"fit":499.1},
{"t":3,"x":530.2,"bg":460.9,"LAPO":492.1,"Li2O":462.2,"fit":493.4},
{"t":3,"x":530,"bg":460.6,"LAPO":485.7,"Li2O":463.6,"fit":488.7},
{"t":3,"x":529.8,"bg":460.3,"LAPO":479.6,"Li2O":466.4,"fit":485.7},
{"t":3,"x":529.6,"bg":460,"LAPO":474.3,"Li2O":471.2,"fit":485.5},
{"t":3,"x":529.4,"bg":459.7,"LAPO":469.9,"Li2O":478.2,"fit":488.4},
{"t":3,"x":529.2,"bg":459.4,"LAPO":466.4,"Li2O":486.7,"fit":493.7},
{"t":3,"x":529,"bg":459.1,"LAPO":463.7,"Li2O":495.1,"fit":499.7},
{"t":3,"x":528.8,"bg":458.8,"LAPO":461.7,"Li2O":501.4,"fit":504.3},
{"t":3,"x":528.6,"bg":458.5,"LAPO":460.3,"Li2O":503.5,"fit":505.3},
{"t":3,"x":528.4,"bg":458.2,"LAPO":459.2,"Li2O":500.8,"fit":501.8},
{"t":3,"x":528.2,"bg":458,"LAPO":458.6,"Li2O":494,"fit":494.6},
{"t":3,"x":528,"bg":457.8,"LAPO":458.1,"Li2O":485.1,"fit":485.4},
{"t":3,"x":527.8,"bg":457.6,"LAPO":457.8,"Li2O":476.1,"fit":476.3},
{"t":3,"x":527.6,"bg":457.5,"LAPO":457.6,"Li2O":468.7,"fit":468.8},
{"t":3,"x":527.4,"bg":457.4,"LAPO":457.4,"Li2O":463.5,"fit":463.5},
{"t":3,"x":527.2,"bg":457.3,"LAPO":457.3,"Li2O":460.3,"fit":460.3},
{"t":3,"x":527,"bg":457.3,"LAPO":457.3,"Li2O":458.6,"fit":458.6},
{"t":3,"x":526.6,"bg":457.3,"LAPO":457.3,"Li2O":457.5,"fit":457.5},
{"t":3,"x":526,"bg":457.3,"LAPO":457.3,"Li2O":457.3,"fit":457.3},
{"t":3,"x":524.5,"bg":457.3,"LAPO":457.3,"fit":457.3},
{"t":4,"x":536,"bg":695,"LAPO":695,"fit":695},
{"t":4,"x":534.8,"bg":695,"LAPO":695,"fit":695},
{"t":4,"x":534,"bg":694.8,"LAPO":695.4,"fit":695.4},
{"t":4,"x":533.6,"bg":694.7,"LAPO":696.3,"fit":696.3},
{"t":4,"x":533.2,"bg":694.6,"LAPO":698.5,"fit":698.5},
{"t":4,"x":532.8,"bg":694.4,"LAPO":702.5,"fit":702.5},
{"t":4,"x":532.4,"bg":694.2,"LAPO":708.3,"fit":708.3},
{"t":4,"x":532,"bg":694,"LAPO":715.1,"fit":715.1},
{"t":4,"x":531.6,"bg":693.6,"LAPO":720.4,"fit":720.4},
{"t":4,"x":531.2,"bg":693.2,"LAPO":722.2,"fit":722.2},
{"t":4,"x":530.8,"bg":692.8,"LAPO":719.6,"Li2O":692.9,"fit":719.7},
{"t":4,"x":530.4,"bg":692.2,"LAPO":713.3,"Li2O":693,"fit":714.1},
{"t":4,"x":530.2,"bg":691.9,"LAPO":709.5,"Li2O":693.8,"fit":711.4},
{"t":4,"x":530,"bg":691.6,"LAPO":705.7,"Li2O":696.1,"fit":710.2},
{"t":4,"x":529.8,"bg":691.3,"LAPO":702.2,"Li2O":700.5,"fit":711.4},
{"t":4,"x":529.6,"bg":691,"LAPO":699.1,"Li2O":708,"fit":716.1},
{"t":4,"x":529.4,"bg":690.7,"LAPO":696.4,"Li2O":718.7,"fit":724.4},
{"t":4,"x":529.2,"bg":690.4,"LAPO":694.3,"Li2O":731.6,"fit":735.5},
{"t":4,"x":529,"bg":690.1,"LAPO":692.7,"Li2O":744.5,"fit":747.1},
{"t":4,"x":528.8,"bg":689.8,"LAPO":691.4,"Li2O":754.1,"fit":755.7},
{"t":4,"x":528.6,"bg":689.5,"LAPO":690.5,"Li2O":757.5,"fit":758.5},
{"t":4,"x":528.4,"bg":689.2,"LAPO":689.8,"Li2O":753.5,"fit":754.1},
{"t":4,"x":528.2,"bg":689,"LAPO":689.3,"Li2O":743.4,"fit":743.7},
{"t":4,"x":528,"bg":688.8,"LAPO":689,"Li2O":730,"fit":730.2},
{"t":4,"x":527.8,"bg":688.6,"LAPO":688.7,"Li2O":716.6,"fit":716.7},
{"t":4,"x":527.6,"bg":688.5,"LAPO":688.5,"Li2O":705.5,"fit":705.5},
{"t":4,"x":527.4,"bg":688.4,"LAPO":688.4,"Li2O":697.6,"fit":697.6},
{"t":4,"x":527.2,"bg":688.3,"LAPO":688.3,"Li2O":692.8,"fit":692.8},
{"t":4,"x":527,"bg":688.3,"LAPO":688.3,"Li2O":690.2,"fit":690.2},
{"t":4,"x":526.6,"bg":688.3,"LAPO":688.3,"Li2O":688.6,"fit":688.6},
{"t":4,"x":526,"bg":688.3,"LAPO":688.3,"Li2O":688.3,"fit":688.3},
{"t":4,"x":524.5,"bg":688.3,"LAPO":688.3,"fit":688.3}
],
"O1s_raw": [
{"x":538,"v":20},{"x":537.8,"v":18},{"x":537.6,"v":21},{"x":537.4,"v":19},{"x":537.2,"v":20},{"x":537,"v":18},{"x":536.8,"v":21},{"x":536.6,"v":19},{"x":536.4,"v":20},{"x":526.2,"v":17},{"x":526,"v":16},{"x":525.8,"v":18},{"x":525.6,"v":16},{"x":525.4,"v":17},{"x":525.2,"v":15},{"x":525,"v":17},{"x":524.8,"v":16},{"x":524.6,"v":18},{"x":524.4,"v":16},{"x":524.2,"v":17},{"x":524,"v":16},
{"x":538,"v":237},{"x":537.8,"v":235},{"x":537.6,"v":237},{"x":537.4,"v":236},{"x":537.2,"v":238},{"x":537,"v":235},{"x":536.8,"v":237},{"x":536.6,"v":236},{"x":536.4,"v":237},{"x":524.5,"v":233},{"x":524.3,"v":231},{"x":524.1,"v":232},
{"x":538,"v":465},{"x":537.8,"v":463},{"x":537.6,"v":466},{"x":537.4,"v":464},{"x":537.2,"v":465},{"x":537,"v":463},{"x":536.8,"v":466},{"x":536.6,"v":464},{"x":536.4,"v":465},{"x":536.2,"v":463},{"x":524.4,"v":458},{"x":524.2,"v":456},{"x":524,"v":457},
{"x":538,"v":696},{"x":537.8,"v":694},{"x":537.6,"v":697},{"x":537.4,"v":695},{"x":537.2,"v":696},{"x":537,"v":694},{"x":536.8,"v":697},{"x":536.6,"v":695},{"x":536.4,"v":696},{"x":536.2,"v":694},{"x":535.6,"v":695},{"x":535.2,"v":696},{"x":524.4,"v":689},{"x":524.2,"v":687},{"x":524,"v":688}
],
"labels": [
{"p":"Li","x":50.6,"y":881,"text":"60 min"},
{"p":"Li","x":50.6,"y":656,"text":"30 min"},
{"p":"Li","x":50.6,"y":420,"text":"10 min"},
{"p":"Li","x":50.6,"y":178,"text":"Initial"},
{"p":"Al","x":79.5,"y":880,"text":"15 min"},
{"p":"Al","x":79.5,"y":660,"text":"10 min"},
{"p":"Al","x":79.5,"y":422,"text":"5 min"},
{"p":"Al","x":79.5,"y":178,"text":"Initial"}
],
"keys": [
{"p":"Li","x":59.5,"y":867,"text":"LAPO","k":"Li LAPO"},
{"p":"Li","x":59.5,"y":834,"text":"SEI","k":"Li SEI"},
{"p":"Li","x":59.5,"y":801,"text":"Li⁰","k":"Li Li0"},
{"p":"Al","x":71.3,"y":876,"text":"LAPO","k":"Al LAPO"},
{"p":"Al","x":71.3,"y":841,"text":"Al⁰","k":"Al Al0"},
{"p":"P","x":127.7,"y":876,"text":"LAPO","k":"P LAPO"},
{"p":"P","x":127.7,"y":841,"text":"LiₓP","k":"P LixP"},
{"p":"P","x":127.7,"y":808,"text":"Li₃P","k":"P Li3P"},
{"p":"O","x":527.6,"y":886,"text":"LAPO","k":"O LAPO"},
{"p":"O","x":527.6,"y":851,"text":"DO","k":"O DO"},
{"p":"O","x":527.6,"y":818,"text":"Li₂O","k":"O Li2O"}
]
},
"bounds": "flush",
"spacing": 0,
"hconcat": [
  {
   "width": 220, "height": 911,
   "view": {"stroke": null},
   "data": {"values": [{}]},
   "layer": [
    {"mark": {"type": "rule", "color": "#a3a3a3", "strokeWidth": 19},
     "encoding": {
      "x": {"datum": 43.5, "type": "quantitative", "scale": {"domain": [0, 100], "nice": false, "zero": false}, "axis": null},
      "y": {"datum": 0.7, "type": "quantitative", "scale": {"domain": [0, 100], "nice": false, "zero": false}, "axis": null},
      "y2": {"datum": 96.8}}},
    {"mark": {"type": "point", "shape": "M-1,0.5L0,-0.5L1,0.5Z", "size": 1600, "filled": true, "color": "#a3a3a3", "opacity": 1, "strokeWidth": 0},
     "encoding": {
      "x": {"datum": 43.5, "type": "quantitative", "scale": {"domain": [0, 100], "nice": false, "zero": false}, "axis": null},
      "y": {"datum": 97.8, "type": "quantitative", "scale": {"domain": [0, 100], "nice": false, "zero": false}, "axis": null}}},
    {"mark": {"type": "text", "text": "Li deposition time", "angle": 270, "fontSize": 58, "fontWeight": "bold", "align": "center", "baseline": "alphabetic", "color": "#000"},
     "encoding": {
      "x": {"datum": 26.4, "type": "quantitative", "scale": {"domain": [0, 100], "nice": false, "zero": false}, "axis": null},
      "y": {"datum": 49.8, "type": "quantitative", "scale": {"domain": [0, 100], "nice": false, "zero": false}, "axis": null}}}
   ]
  },
  {
   "width": 406, "height": 911,
   "title": {"text": "Li 1s", "fontSize": 36, "fontWeight": "bold", "offset": 18, "dx": 15, "anchor": "middle", "color": "#000"},
   "encoding": {"x": {"field": "x", "type": "quantitative", "scale": {"domain": [50, 60], "reverse": true, "nice": false, "zero": false}, "axis": {"title": "B.E (eV)", "values": [60, 57.5, 55, 52.5, 50], "labelExpr": "datum.value % 5 == 0 ? datum.label : ''"}}},
   "layer": [
    {"data": {"name": "Li1s_raw"}, "mark": {"type": "point", "shape": "circle", "size": 26, "filled": false, "color": "#bcbcbc", "strokeWidth": 1.1, "opacity": 0.75},
     "encoding": {"y": {"field": "v", "type": "quantitative", "scale": {"domain": [0, 911], "nice": false, "zero": false}, "axis": {"title": "Intensity (a.u)", "labels": false, "ticks": false, "domain": false, "grid": false, "titleFontSize": 60, "titleFontWeight": "normal", "titlePadding": 12, "minExtent": 0, "maxExtent": 0}}}},
    {"data": {"name": "Li1s"}, "transform": [{"filter": "isValid(datum.LAPO)"}], "mark": {"type": "area", "interpolate": "monotone", "color": "#7a7a7a", "opacity": 0.95},
     "encoding": {"y": {"field": "LAPO", "type": "quantitative", "scale": {"domain": [0, 911], "nice": false, "zero": false}, "axis": {"title": "Intensity (a.u)", "labels": false, "ticks": false, "domain": false, "grid": false, "titleFontSize": 60, "titleFontWeight": "normal", "titlePadding": 12, "minExtent": 0, "maxExtent": 0}}, "y2": {"field": "bg"}, "detail": {"field": "t", "type": "nominal"}}},
    {"data": {"name": "Li1s"}, "transform": [{"filter": "isValid(datum.SEI)"}], "mark": {"type": "area", "interpolate": "monotone", "color": "#c0c0c0", "opacity": 0.62},
     "encoding": {"y": {"field": "SEI", "type": "quantitative", "scale": {"domain": [0, 911], "nice": false, "zero": false}, "axis": {"title": "Intensity (a.u)", "labels": false, "ticks": false, "domain": false, "grid": false, "titleFontSize": 60, "titleFontWeight": "normal", "titlePadding": 12, "minExtent": 0, "maxExtent": 0}}, "y2": {"field": "bg"}, "detail": {"field": "t", "type": "nominal"}}},
    {"data": {"name": "Li1s"}, "transform": [{"filter": "isValid(datum.Li0)"}], "mark": {"type": "area", "interpolate": "monotone", "color": "#22cccc", "opacity": 0.85},
     "encoding": {"y": {"field": "Li0", "type": "quantitative", "scale": {"domain": [0, 911], "nice": false, "zero": false}, "axis": {"title": "Intensity (a.u)", "labels": false, "ticks": false, "domain": false, "grid": false, "titleFontSize": 60, "titleFontWeight": "normal", "titlePadding": 12, "minExtent": 0, "maxExtent": 0}}, "y2": {"field": "bg"}, "detail": {"field": "t", "type": "nominal"}}},
    {"data": {"name": "Li1s"}, "mark": {"type": "line", "interpolate": "monotone", "color": "#141414", "strokeWidth": 2.4},
     "encoding": {"y": {"field": "fit", "type": "quantitative", "scale": {"domain": [0, 911], "nice": false, "zero": false}, "axis": {"title": "Intensity (a.u)", "labels": false, "ticks": false, "domain": false, "grid": false, "titleFontSize": 60, "titleFontWeight": "normal", "titlePadding": 12, "minExtent": 0, "maxExtent": 0}}, "detail": {"field": "t", "type": "nominal"}}},
    {"data": {"name": "Li1s"}, "mark": {"type": "line", "interpolate": "monotone", "color": "#141414", "strokeWidth": 2},
     "encoding": {"y": {"field": "bg", "type": "quantitative", "scale": {"domain": [0, 911], "nice": false, "zero": false}, "axis": {"title": "Intensity (a.u)", "labels": false, "ticks": false, "domain": false, "grid": false, "titleFontSize": 60, "titleFontWeight": "normal", "titlePadding": 12, "minExtent": 0, "maxExtent": 0}}, "detail": {"field": "t", "type": "nominal"}}},
    {"data": {"name": "labels"}, "transform": [{"filter": "datum.p == 'Li'"}], "mark": {"type": "text", "align": "right", "baseline": "middle", "fontSize": 26, "fontWeight": "bold", "color": "#111"},
     "encoding": {"y": {"field": "y", "type": "quantitative", "scale": {"domain": [0, 911], "nice": false, "zero": false}, "axis": {"title": "Intensity (a.u)", "labels": false, "ticks": false, "domain": false, "grid": false, "titleFontSize": 60, "titleFontWeight": "normal", "titlePadding": 12, "minExtent": 0, "maxExtent": 0}}, "text": {"field": "text"}}},
    {"data": {"name": "keys"}, "transform": [{"filter": "datum.p == 'Li'"}], "mark": {"type": "text", "align": "left", "baseline": "middle", "fontSize": 25, "fontWeight": "bold"},
     "encoding": {"y": {"field": "y", "type": "quantitative", "scale": {"domain": [0, 911], "nice": false, "zero": false}, "axis": {"title": "Intensity (a.u)", "labels": false, "ticks": false, "domain": false, "grid": false, "titleFontSize": 60, "titleFontWeight": "normal", "titlePadding": 12, "minExtent": 0, "maxExtent": 0}}, "text": {"field": "text"},
      "color": {"field": "k", "type": "nominal", "legend": null, "scale": {"domain": ["Li LAPO","Li SEI","Li Li0","Al LAPO","Al Al0","P LAPO","P LixP","P Li3P","O LAPO","O DO","O Li2O"], "range": ["#7b7b7b","#c3c3c3","#5fe2e6","#2121c6","#b3bbe6","#e34ee8","#1b1b88","#e03a3a","#aff2dc","#4d83df","#2e8a72"]}}}}
   ]
  },
  {"width": 100, "height": 911, "view": {"stroke": null}, "data": {"values": []}, "mark": "point"},
  {
   "width": 405, "height": 911,
   "title": {"text": "Al 2p", "fontSize": 36, "fontWeight": "bold", "offset": 18, "anchor": "middle", "color": "#000"},
   "encoding": {"x": {"field": "x", "type": "quantitative", "scale": {"domain": [68, 80], "reverse": true, "nice": false, "zero": false}, "axis": {"title": "B.E (eV)", "values": [80, 78, 76, 74, 72, 70, 68], "labelExpr": "datum.value % 4 == 0 ? datum.label : ''"}}},
   "layer": [
    {"data": {"name": "Al2p_raw"}, "mark": {"type": "point", "shape": "circle", "size": 26, "filled": false, "color": "#bcbcbc", "strokeWidth": 1.1, "opacity": 0.75},
     "encoding": {"y": {"field": "v", "type": "quantitative", "scale": {"domain": [0, 911], "nice": false, "zero": false}, "axis": null}}},
    {"data": {"name": "Al2p"}, "transform": [{"filter": "isValid(datum.LAPO)"}], "mark": {"type": "area", "interpolate": "monotone", "color": "#4f4ff0", "opacity": 0.95, "line": {"color": "#1e1ea8", "strokeWidth": 1.2}},
     "encoding": {"y": {"field": "LAPO", "type": "quantitative", "scale": {"domain": [0, 911], "nice": false, "zero": false}, "axis": null}, "y2": {"field": "bg"}, "detail": {"field": "t", "type": "nominal"}}},
    {"data": {"name": "Al2p"}, "transform": [{"filter": "isValid(datum.Al0)"}], "mark": {"type": "area", "interpolate": "monotone", "color": "#a9afe8", "opacity": 0.6},
     "encoding": {"y": {"field": "Al0", "type": "quantitative", "scale": {"domain": [0, 911], "nice": false, "zero": false}, "axis": null}, "y2": {"field": "bg"}, "detail": {"field": "t", "type": "nominal"}}},
    {"data": {"name": "Al2p"}, "mark": {"type": "line", "interpolate": "monotone", "color": "#141414", "strokeWidth": 2.4},
     "encoding": {"y": {"field": "fit", "type": "quantitative", "scale": {"domain": [0, 911], "nice": false, "zero": false}, "axis": null}, "detail": {"field": "t", "type": "nominal"}}},
    {"data": {"name": "Al2p"}, "mark": {"type": "line", "interpolate": "monotone", "color": "#141414", "strokeWidth": 2},
     "encoding": {"y": {"field": "bg", "type": "quantitative", "scale": {"domain": [0, 911], "nice": false, "zero": false}, "axis": null}, "detail": {"field": "t", "type": "nominal"}}},
    {"data": {"name": "labels"}, "transform": [{"filter": "datum.p == 'Al'"}], "mark": {"type": "text", "align": "left", "baseline": "middle", "fontSize": 26, "fontWeight": "bold", "color": "#111"},
     "encoding": {"y": {"field": "y", "type": "quantitative", "scale": {"domain": [0, 911], "nice": false, "zero": false}, "axis": null}, "text": {"field": "text"}}},
    {"data": {"name": "keys"}, "transform": [{"filter": "datum.p == 'Al'"}], "mark": {"type": "text", "align": "left", "baseline": "middle", "fontSize": 25, "fontWeight": "bold"},
     "encoding": {"y": {"field": "y", "type": "quantitative", "scale": {"domain": [0, 911], "nice": false, "zero": false}, "axis": null}, "text": {"field": "text"},
      "color": {"field": "k", "type": "nominal", "legend": null, "scale": {"domain": ["Li LAPO","Li SEI","Li Li0","Al LAPO","Al Al0","P LAPO","P LixP","P Li3P","O LAPO","O DO","O Li2O"], "range": ["#7b7b7b","#c3c3c3","#5fe2e6","#2121c6","#b3bbe6","#e34ee8","#1b1b88","#e03a3a","#aff2dc","#4d83df","#2e8a72"]}}}}
   ]
  },
  {"width": 57, "height": 911, "view": {"stroke": null}, "data": {"values": []}, "mark": "point"},
  {
   "width": 399, "height": 911,
   "title": {"text": "P 2p", "fontSize": 36, "fontWeight": "bold", "offset": 18, "anchor": "middle", "color": "#000"},
   "encoding": {"x": {"field": "x", "type": "quantitative", "scale": {"domain": [123, 141], "reverse": true, "nice": false, "zero": false}, "axis": {"title": "B.E (eV)", "values": [138, 135, 132, 129, 126], "labelExpr": "datum.value % 6 == 0 ? datum.label : ''"}}},
   "layer": [
    {"data": {"name": "P2p_raw"}, "mark": {"type": "point", "shape": "circle", "size": 26, "filled": false, "color": "#bcbcbc", "strokeWidth": 1.1, "opacity": 0.75},
     "encoding": {"y": {"field": "v", "type": "quantitative", "scale": {"domain": [0, 911], "nice": false, "zero": false}, "axis": null}}},
    {"data": {"name": "P2p"}, "transform": [{"filter": "isValid(datum.LAPO)"}], "mark": {"type": "area", "interpolate": "monotone", "color": "#f2b0f6", "opacity": 0.95},
     "encoding": {"y": {"field": "LAPO", "type": "quantitative", "scale": {"domain": [0, 911], "nice": false, "zero": false}, "axis": null}, "y2": {"field": "bg"}, "detail": {"field": "t", "type": "nominal"}}},
    {"data": {"name": "P2p"}, "transform": [{"filter": "isValid(datum.LixP)"}], "mark": {"type": "area", "interpolate": "monotone", "color": "#202090", "opacity": 0.95},
     "encoding": {"y": {"field": "LixP", "type": "quantitative", "scale": {"domain": [0, 911], "nice": false, "zero": false}, "axis": null}, "y2": {"field": "bg"}, "detail": {"field": "t", "type": "nominal"}}},
    {"data": {"name": "P2p"}, "transform": [{"filter": "isValid(datum.Li3P)"}], "mark": {"type": "area", "interpolate": "linear", "color": "#e63232", "opacity": 0.95},
     "encoding": {"y": {"field": "Li3P", "type": "quantitative", "scale": {"domain": [0, 911], "nice": false, "zero": false}, "axis": null}, "y2": {"field": "bg"}, "detail": {"field": "t", "type": "nominal"}}},
    {"data": {"name": "P2p"}, "mark": {"type": "line", "interpolate": "monotone", "color": "#141414", "strokeWidth": 2.4},
     "encoding": {"y": {"field": "fit", "type": "quantitative", "scale": {"domain": [0, 911], "nice": false, "zero": false}, "axis": null}, "detail": {"field": "t", "type": "nominal"}}},
    {"data": {"name": "P2p"}, "mark": {"type": "line", "interpolate": "monotone", "color": "#141414", "strokeWidth": 2},
     "encoding": {"y": {"field": "bg", "type": "quantitative", "scale": {"domain": [0, 911], "nice": false, "zero": false}, "axis": null}, "detail": {"field": "t", "type": "nominal"}}},
    {"data": {"name": "keys"}, "transform": [{"filter": "datum.p == 'P'"}], "mark": {"type": "text", "align": "left", "baseline": "middle", "fontSize": 25, "fontWeight": "bold"},
     "encoding": {"y": {"field": "y", "type": "quantitative", "scale": {"domain": [0, 911], "nice": false, "zero": false}, "axis": null}, "text": {"field": "text"},
      "color": {"field": "k", "type": "nominal", "legend": null, "scale": {"domain": ["Li LAPO","Li SEI","Li Li0","Al LAPO","Al Al0","P LAPO","P LixP","P Li3P","O LAPO","O DO","O Li2O"], "range": ["#7b7b7b","#c3c3c3","#5fe2e6","#2121c6","#b3bbe6","#e34ee8","#1b1b88","#e03a3a","#aff2dc","#4d83df","#2e8a72"]}}}}
   ]
  },
  {"width": 57, "height": 911, "view": {"stroke": null}, "data": {"values": []}, "mark": "point"},
  {
   "width": 400, "height": 911,
   "title": {"text": "O 1s", "fontSize": 36, "fontWeight": "bold", "offset": 18, "dx": 5, "anchor": "middle", "color": "#000"},
   "encoding": {"x": {"field": "x", "type": "quantitative", "scale": {"domain": [524, 538], "reverse": true, "nice": false, "zero": false}, "axis": {"title": "B.E (eV)", "values": [537, 534, 531, 528, 525], "labelExpr": "datum.value % 6 == 0 ? datum.label : ''"}}},
   "layer": [
    {"data": {"name": "O1s_raw"}, "mark": {"type": "point", "shape": "circle", "size": 26, "filled": false, "color": "#c4c4c4", "strokeWidth": 1.1, "opacity": 0.7},
     "encoding": {"y": {"field": "v", "type": "quantitative", "scale": {"domain": [0, 911], "nice": false, "zero": false}, "axis": null}}},
    {"data": {"name": "O1s"}, "transform": [{"filter": "isValid(datum.LAPO)"}], "mark": {"type": "area", "interpolate": "monotone", "color": "#a8f4e2", "opacity": 0.95},
     "encoding": {"y": {"field": "LAPO", "type": "quantitative", "scale": {"domain": [0, 911], "nice": false, "zero": false}, "axis": null}, "y2": {"field": "bg"}, "detail": {"field": "t", "type": "nominal"}}},
    {"data": {"name": "O1s"}, "transform": [{"filter": "isValid(datum.DO)"}], "mark": {"type": "area", "interpolate": "monotone", "color": "#4a78ec", "opacity": 0.8},
     "encoding": {"y": {"field": "DO", "type": "quantitative", "scale": {"domain": [0, 911], "nice": false, "zero": false}, "axis": null}, "y2": {"field": "bg"}, "detail": {"field": "t", "type": "nominal"}}},
    {"data": {"name": "O1s"}, "transform": [{"filter": "isValid(datum.Li2O)"}], "mark": {"type": "area", "interpolate": "monotone", "color": "#3a9b96", "opacity": 0.88},
     "encoding": {"y": {"field": "Li2O", "type": "quantitative", "scale": {"domain": [0, 911], "nice": false, "zero": false}, "axis": null}, "y2": {"field": "bg"}, "detail": {"field": "t", "type": "nominal"}}},
    {"data": {"name": "O1s"}, "mark": {"type": "line", "interpolate": "monotone", "color": "#141414", "strokeWidth": 2.4},
     "encoding": {"y": {"field": "fit", "type": "quantitative", "scale": {"domain": [0, 911], "nice": false, "zero": false}, "axis": null}, "detail": {"field": "t", "type": "nominal"}}},
    {"data": {"name": "O1s"}, "mark": {"type": "line", "interpolate": "monotone", "color": "#141414", "strokeWidth": 2},
     "encoding": {"y": {"field": "bg", "type": "quantitative", "scale": {"domain": [0, 911], "nice": false, "zero": false}, "axis": null}, "detail": {"field": "t", "type": "nominal"}}},
    {"data": {"name": "keys"}, "transform": [{"filter": "datum.p == 'O'"}], "mark": {"type": "text", "align": "left", "baseline": "middle", "fontSize": 25, "fontWeight": "bold"},
     "encoding": {"y": {"field": "y", "type": "quantitative", "scale": {"domain": [0, 911], "nice": false, "zero": false}, "axis": null}, "text": {"field": "text"},
      "color": {"field": "k", "type": "nominal", "legend": null, "scale": {"domain": ["Li LAPO","Li SEI","Li Li0","Al LAPO","Al Al0","P LAPO","P LixP","P Li3P","O LAPO","O DO","O Li2O"], "range": ["#7b7b7b","#c3c3c3","#5fe2e6","#2121c6","#b3bbe6","#e34ee8","#1b1b88","#e03a3a","#aff2dc","#4d83df","#2e8a72"]}}}}
   ]
  }
]
}
